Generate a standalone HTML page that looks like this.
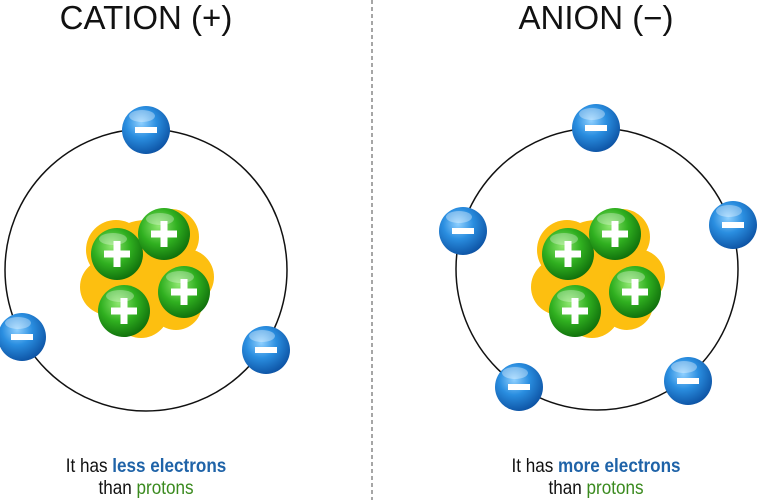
<!DOCTYPE html>
<html><head><style>
html,body{margin:0;padding:0;background:#fff;}
svg{display:block;}
</style></head><body>
<svg width="757" height="500" viewBox="0 0 757 500" xmlns="http://www.w3.org/2000/svg">
<defs>
<radialGradient id="eg" cx="0.4" cy="0.35" r="0.7">
<stop offset="0" stop-color="#8fd0ff"/><stop offset="0.45" stop-color="#2a8ee0"/><stop offset="1" stop-color="#0b4fa0"/>
</radialGradient>
<radialGradient id="pg" cx="0.4" cy="0.35" r="0.7">
<stop offset="0" stop-color="#8fe870"/><stop offset="0.5" stop-color="#30b020"/><stop offset="1" stop-color="#0d6a0a"/>
</radialGradient>
<g id="el">
<circle r="24" fill="url(#eg)"/>
<ellipse cx="-4" cy="-14" rx="13" ry="6" fill="#fff" opacity="0.35"/>
<rect x="-11" y="-3" width="22" height="6" fill="#fff"/>
</g>
<g id="pr">
<circle r="26" fill="url(#pg)"/>
<ellipse cx="-4" cy="-15" rx="14" ry="6" fill="#fff" opacity="0.3"/>
<rect x="-13" y="-3.5" width="26" height="7" fill="#fff"/>
<rect x="-3.5" y="-13" width="7" height="26" fill="#fff"/>
</g>
<g id="nuc">
<g fill="#fdbf10">
<circle cx="0" cy="0" r="52"/>
<circle cx="-30" cy="-22" r="30"/><circle cx="25" cy="-35" r="28"/>
<circle cx="40" cy="5" r="28"/><circle cx="-38" cy="15" r="28"/>
<circle cx="-5" cy="38" r="28"/><circle cx="30" cy="32" r="26"/>
</g>
<use href="#pr" x="-29" y="-18"/>
<use href="#pr" x="18" y="-38"/>
<use href="#pr" x="38" y="20"/>
<use href="#pr" x="-22" y="39"/>
</g>
</defs>
<line x1="372" y1="0" x2="372" y2="500" stroke="#888" stroke-width="1.5" stroke-dasharray="4,3"/>
<text x="146" y="29" text-anchor="middle" font-family="Liberation Sans, sans-serif" font-size="33" fill="#111">CATION (+)</text>
<text x="596" y="29" text-anchor="middle" font-family="Liberation Sans, sans-serif" font-size="33" fill="#111">ANION (−)</text>
<circle cx="146" cy="270" r="141" fill="none" stroke="#111" stroke-width="1.5"/>
<circle cx="597" cy="269" r="141" fill="none" stroke="#111" stroke-width="1.5"/>
<use href="#nuc" x="146" y="272"/>
<use href="#nuc" x="597" y="272"/>
<use href="#el" x="146" y="130"/>
<use href="#el" x="22" y="337"/>
<use href="#el" x="266" y="350"/>
<use href="#el" x="596" y="128"/>
<use href="#el" x="463" y="231"/>
<use href="#el" x="733" y="225"/>
<use href="#el" x="519" y="387"/>
<use href="#el" x="688" y="381"/>
<g font-family="Liberation Sans, sans-serif" font-size="19" text-anchor="middle">
<text transform="translate(146,472) scale(0.9,1)" fill="#111">It has <tspan fill="#1f63a8" font-weight="bold">less electrons</tspan></text>
<text transform="translate(146,494) scale(0.9,1)" fill="#111">than <tspan fill="#3a8a1e">protons</tspan></text>
<text transform="translate(596,472) scale(0.9,1)" fill="#111">It has <tspan fill="#1f63a8" font-weight="bold">more electrons</tspan></text>
<text transform="translate(596,494) scale(0.9,1)" fill="#111">than <tspan fill="#3a8a1e">protons</tspan></text>
</g>
</svg>
</body></html>
